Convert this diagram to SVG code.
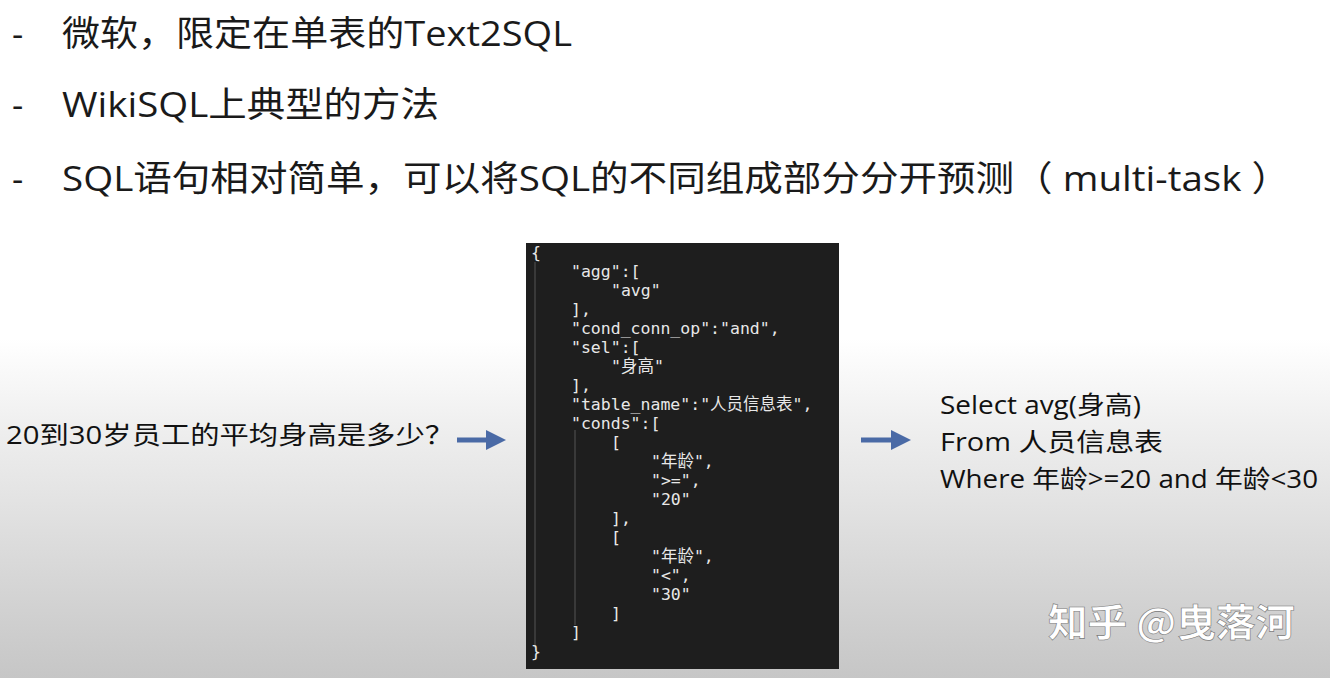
<svg xmlns="http://www.w3.org/2000/svg" width="1330" height="678" viewBox="0 0 1330 678">
<defs>
<linearGradient id="bg" x1="0" y1="0" x2="0" y2="1">
<stop offset="0" stop-color="#ffffff"/><stop offset="0.5" stop-color="#ffffff"/><stop offset="0.62" stop-color="#f0f0f0"/><stop offset="1" stop-color="#c6c6c6"/>
</linearGradient>
<marker id="ah" markerWidth="4" markerHeight="4" refX="2" refY="2" orient="auto"><path d="M0,0 L4,2 L0,4 z" fill="#4a6aa6"/></marker>
<style>
.b{font-family:"Open Sans","Noto Sans CJK SC",sans-serif;font-size:35px;fill:#1a1a1a}
.t{font-family:"Open Sans","Noto Sans CJK SC",sans-serif;font-size:25px;fill:#111}
.c{font-family:"DejaVu Sans Mono","Noto Sans CJK SC",monospace;font-size:16.5px;fill:#e8e8e8;white-space:pre}
.a{stroke:#4a6aa6;stroke-width:5;fill:none;marker-end:url(#ah)}
</style>
</defs>
<rect width="1330" height="678" fill="url(#bg)"/>
<g id="bullets">
<text class="b" x="12" y="46">-</text><text class="b" x="62" y="46" textLength="510" lengthAdjust="spacingAndGlyphs">微软，限定在单表的Text2SQL</text>
<text class="b" x="12" y="117">-</text><text class="b" x="62" y="117" textLength="377" lengthAdjust="spacingAndGlyphs">WikiSQL上典型的方法</text>
<text class="b" x="12" y="191">-</text><text class="b" x="62" y="191" textLength="1228" lengthAdjust="spacingAndGlyphs">SQL语句相对简单，可以将SQL的不同组成部分分开预测（ multi-task ）</text>
</g>
<g id="question"><text class="t" x="6" y="444" textLength="448" lengthAdjust="spacingAndGlyphs">20到30岁员工的平均身高是多少？</text></g>
<g id="code">
<rect x="526" y="243" width="313" height="426" fill="#1e1e1e"/>
<g stroke="#555" stroke-width="1"><line x1="535" y1="262" x2="535" y2="648"/><line x1="575" y1="430" x2="575" y2="625"/></g>
<text class="c" x="531" y="258">{</text>
<text class="c" x="571" y="277">"agg":[</text>
<text class="c" x="611" y="296">"avg"</text>
<text class="c" x="571" y="315">],</text>
<text class="c" x="571" y="334">"cond_conn_op":"and",</text>
<text class="c" x="571" y="353">"sel":[</text>
<text class="c" x="611" y="372">"身高"</text>
<text class="c" x="571" y="391">],</text>
<text class="c" x="571" y="410">"table_name":"人员信息表",</text>
<text class="c" x="571" y="429">"conds":[</text>
<text class="c" x="611" y="448">[</text>
<text class="c" x="651" y="467">"年龄",</text>
<text class="c" x="651" y="486">"&gt;=",</text>
<text class="c" x="651" y="505">"20"</text>
<text class="c" x="611" y="524">],</text>
<text class="c" x="611" y="543">[</text>
<text class="c" x="651" y="562">"年龄",</text>
<text class="c" x="651" y="581">"&lt;",</text>
<text class="c" x="651" y="600">"30"</text>
<text class="c" x="611" y="619">]</text>
<text class="c" x="571" y="638">]</text>
<text class="c" x="531" y="657">}</text>
</g>
<g id="sql">
<text class="t" x="940" y="414" textLength="201" lengthAdjust="spacingAndGlyphs">Select avg(身高)</text>
<text class="t" x="940" y="451" textLength="223" lengthAdjust="spacingAndGlyphs">From 人员信息表</text>
<text class="t" x="940" y="488" textLength="378" lengthAdjust="spacingAndGlyphs">Where 年龄&gt;=20 and 年龄&lt;30</text>
</g>
<g id="connectors">
<line class="a" x1="457" y1="440" x2="496" y2="440"/>
<line class="a" x1="861" y1="440" x2="901" y2="440"/>
</g>
<g id="watermark"><text x="1048" y="636" textLength="247" lengthAdjust="spacingAndGlyphs" style="font-family:'Noto Sans CJK SC',sans-serif;font-size:38px;font-weight:bold;fill:#fff;stroke:#777;stroke-width:0.6">知乎 @曳落河</text></g>
</svg>
